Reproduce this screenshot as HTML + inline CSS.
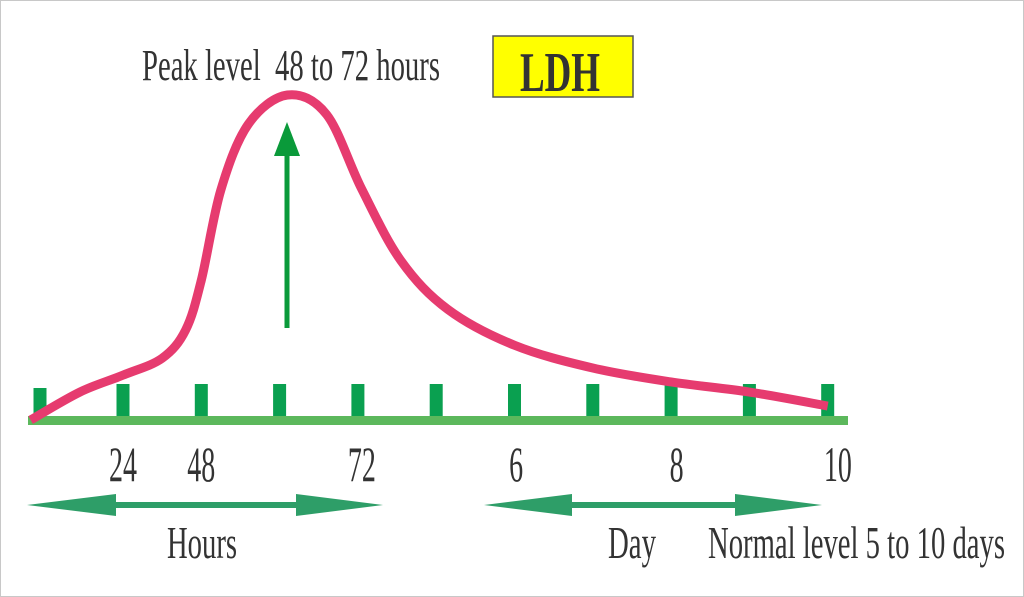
<!DOCTYPE html>
<html><head><meta charset="utf-8"><style>
html,body{margin:0;padding:0;background:#fff}
svg{display:block}
text{font-family:"Liberation Serif",serif;fill:#333}
</style></head><body>
<svg width="1024" height="597" viewBox="0 0 1024 597">
<rect x="0.5" y="0.5" width="1023" height="596" fill="#fff" stroke="#c8c8c8"/>
<text x="142" y="80" font-size="44" textLength="298" lengthAdjust="spacingAndGlyphs">Peak level&#160; 48 to 72 hours</text>
<rect x="493" y="36" width="140" height="61" fill="#ffff00" stroke="#555" stroke-width="1.5"/>
<text x="520" y="91" font-size="56" font-weight="bold" textLength="80" lengthAdjust="spacingAndGlyphs">LDH</text>
<g id="ticks"></g>
<rect x="28" y="416" width="820" height="9" fill="#5cb85c"/>
<path id="curve" fill="none" stroke="#e63b6f" stroke-width="9" stroke-linecap="butt"/>
<g>
<rect x="284.5" y="150" width="5" height="178" fill="#0a9a3a"/>
<polygon points="287,122 274,156 300,156" fill="#0a9a3a"/>
</g>
<g id="labels"></g>
<g fill="#2e9e68">
<rect x="110" y="502" width="200" height="6"/>
<polygon points="27,505 116,494 116,516"/>
<polygon points="383,505 296,494 296,516"/>
</g>
<g fill="#2e9e68">
<rect x="565" y="502" width="180" height="6"/>
<polygon points="484,505 572,494 572,516"/>
<polygon points="822,505 735,494 735,516"/>
</g>
<text x="167" y="558" font-size="46" textLength="70" lengthAdjust="spacingAndGlyphs">Hours</text>
<text x="608" y="558" font-size="46" textLength="48" lengthAdjust="spacingAndGlyphs">Day</text>
<text x="708" y="558" font-size="46" textLength="297" lengthAdjust="spacingAndGlyphs">Normal level 5 to 10 days</text>
</svg>
<script>
const tickIndex=[0,1,2,3,4,5,6,7,8,9,10];
const tickLabels=["24","48","72","6","8","10"];
const tickLabelPos=[1.0,2.0,4.05,6.02,8.07,10.13];
const curveX=[-0.18,0.45,1.0,1.5,1.8,2.0,2.25,2.6,3.1,3.6,4.05,4.55,5.15,6.0,7.0,8.0,9.0,10.0];
const curveY=[0,8.6,13.8,19,27.7,43,70.8,91,100,94,71,49,34,23,16,11.7,8.6,4.3];
const sx=i=>44.7+i*78.3;
const sy=v=>420-v*3.25;
const NS="http://www.w3.org/2000/svg";
const tg=document.getElementById('ticks');
tickIndex.forEach(i=>{
 const r=document.createElementNS(NS,'rect');
 r.setAttribute('x',(i===0?40:sx(i))-6.5);r.setAttribute('y',i===0?388:384);
 r.setAttribute('width',13);r.setAttribute('height',i===0?34:33);
 r.setAttribute('fill','#0aa050');
 
 
 tg.appendChild(r);
});
const lg=document.getElementById('labels');
tickLabels.forEach((t,k)=>{
 const e=document.createElementNS(NS,'text');
 e.setAttribute('x',sx(tickLabelPos[k]));e.setAttribute('y',481);
 e.setAttribute('font-size',50);e.setAttribute('text-anchor','middle');
 e.setAttribute('textLength',t.length*14);e.setAttribute('lengthAdjust','spacingAndGlyphs');
 e.textContent=t;
 
 
 lg.appendChild(e);
});
const P=curveX.map((x,i)=>[sx(x),sy(curveY[i])]);
let d=`M${P[0][0]},${P[0][1]}`;
for(let i=0;i<P.length-1;i++){
 const p0=P[Math.max(0,i-1)],p1=P[i],p2=P[i+1],p3=P[Math.min(P.length-1,i+2)];
 const c1=[p1[0]+(p2[0]-p0[0])/6,p1[1]+(p2[1]-p0[1])/6];
 const c2=[p2[0]-(p3[0]-p1[0])/6,p2[1]-(p3[1]-p1[1])/6];
 d+=` C${c1[0]},${c1[1]} ${c2[0]},${c2[1]} ${p2[0]},${p2[1]}`;
}
document.getElementById('curve').setAttribute('d',d);
</script>
</body></html>
